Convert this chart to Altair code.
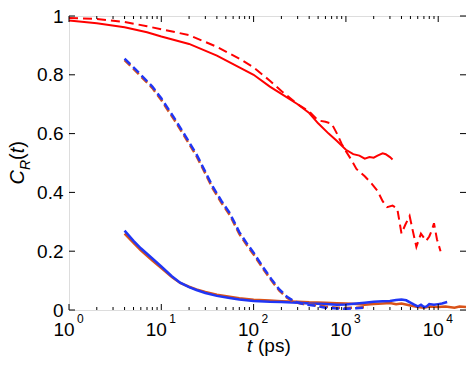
import altair as alt
import pandas as pd

# ---------------- data ----------------
red_solid_t = [1, 2, 4, 7, 10, 20, 40, 70, 100, 150, 200, 300, 400, 500, 650, 800,
               1000, 1200, 1400, 1600, 1800, 2000, 2200, 2500, 2700, 3000, 3200]
red_solid_c = [0.985, 0.975, 0.962, 0.945, 0.93, 0.905, 0.865, 0.825, 0.80, 0.76, 0.735,
               0.70, 0.67, 0.635, 0.60, 0.575, 0.545, 0.53, 0.525, 0.515, 0.52, 0.518,
               0.525, 0.533, 0.53, 0.52, 0.512]

red_dash_t = [1, 2, 4, 7, 10, 20, 40, 70, 100, 150, 200, 250, 300, 400, 500, 600, 700,
              800, 900, 1000, 1150, 1300, 1600, 1900, 2200, 2500, 2800, 3200, 3600, 4000,
              4400, 4900, 5300, 5800, 6500, 7400, 8000, 8500, 9000, 9700, 10600]
red_dash_c = [0.993, 0.99, 0.98, 0.965, 0.955, 0.935, 0.895, 0.855, 0.825, 0.78, 0.745,
              0.72, 0.70, 0.675, 0.645, 0.64, 0.634, 0.60, 0.565, 0.54, 0.51, 0.48, 0.455,
              0.43, 0.405, 0.37, 0.35, 0.355, 0.345, 0.26, 0.29, 0.32, 0.27, 0.215, 0.26,
              0.235, 0.25, 0.27, 0.295, 0.24, 0.20]

blue_dash_t = [4, 5, 6, 8, 10, 14, 18, 24, 30, 36, 45, 55, 70, 85, 100, 130, 160, 190,
               230, 280, 350, 450, 600, 800, 1000, 1300, 1700]
blue_dash_c = [0.855, 0.825, 0.80, 0.76, 0.72, 0.65, 0.595, 0.53, 0.47, 0.42, 0.37, 0.33,
               0.265, 0.225, 0.195, 0.14, 0.10, 0.07, 0.045, 0.028, 0.02, 0.015, 0.008,
               0.005, 0.004, 0.006, 0.008]

orange_dash_t = [4, 5, 6, 8, 10, 14, 18, 24, 30, 36, 45, 55, 70, 85, 100, 130, 160, 190,
                 230, 280, 350, 450, 600, 800, 1000, 1300, 1700]
orange_dash_c = [0.85, 0.82, 0.795, 0.755, 0.714, 0.644, 0.589, 0.524, 0.464, 0.414, 0.364,
                 0.324, 0.259, 0.219, 0.189, 0.135, 0.096, 0.066, 0.042, 0.026, 0.02, 0.017,
                 0.012, 0.008, 0.007, 0.008, 0.01]

blue_solid_t = [4, 5, 6, 8, 10, 13, 16, 20, 24, 30, 40, 55, 70, 100, 150, 200, 300, 400,
                600, 800, 1000, 1300, 1600, 2000, 2500, 3000, 3500, 4000, 4500, 5000, 5500,
                6000, 6500, 7000, 7500, 8000, 9000, 10000, 11000, 12500]
blue_solid_c = [0.27, 0.235, 0.21, 0.175, 0.148, 0.115, 0.093, 0.078, 0.068, 0.058, 0.048,
                0.041, 0.036, 0.031, 0.028, 0.027, 0.025, 0.022, 0.02, 0.018, 0.019, 0.022,
                0.025, 0.028, 0.03, 0.031, 0.034, 0.036, 0.033, 0.025, 0.018, 0.012, 0.018,
                0.01, 0.012, 0.02, 0.018, 0.02, 0.022, 0.027]

orange_solid_t = [4, 5, 6, 8, 10, 13, 16, 20, 24, 30, 40, 55, 70, 100, 150, 200, 300, 400,
                  600, 800, 1000, 1300, 1600, 2000, 2500, 3000, 3500, 4000, 5000, 6000,
                  7000, 8000, 10000, 12000, 15000, 17000, 20000]
orange_solid_c = [0.26, 0.228, 0.203, 0.168, 0.143, 0.112, 0.092, 0.079, 0.07, 0.061,
                  0.052, 0.045, 0.04, 0.035, 0.032, 0.03, 0.028, 0.026, 0.025, 0.023, 0.022,
                  0.02, 0.018, 0.02, 0.022, 0.024, 0.02, 0.022, 0.015, 0.01, 0.008, 0.012,
                  0.01, 0.012, 0.008, 0.012, 0.01]

x_major = [1, 10, 100, 1000, 10000]
x_exponents = ["0", "1", "2", "3", "4"]
x_minor = [k * 10 ** d for d in range(0, 5) for k in range(2, 10) if k * 10 ** d < 20000]
y_major = [0, 0.2, 0.4, 0.6, 0.8, 1.0]

# ---------------- styling ----------------
W, H = 397, 294
FONT = "Liberation Sans"
RED = "#ff0000"
BLUE = "#2036f5"
ORANGE = "#d95319"

xs = alt.Scale(type="log", domain=[1, 20000], nice=False)
ys = alt.Scale(domain=[0, 1], nice=False, zero=False)
y_axis = alt.Axis(values=y_major, format="~g", labelFontSize=19, labelFont=FONT,
                  labelColor="black", ticks=False, tickSize=0, domain=False, grid=False,
                  title=None, labelPadding=6, labelOverlap=False)


def series(t, c, color, width, dash=None):
    df = pd.DataFrame({"t": t, "C": c})
    kw = dict(color=color, strokeWidth=width, clip=True)
    if dash:
        kw["strokeDash"] = dash
    return alt.Chart(df).mark_line(**kw).encode(
        x=alt.X("t:Q", scale=xs, axis=None),
        y=alt.Y("C:Q", scale=ys, axis=y_axis),
    )


layers = [
    series(orange_solid_t, orange_solid_c, ORANGE, 2.5),
    series(blue_solid_t, blue_solid_c, BLUE, 2.5),
    series(orange_dash_t, orange_dash_c, ORANGE, 2.5, [8, 4]),
    series(blue_dash_t, blue_dash_c, BLUE, 2.5, [8, 4]),
    series(red_solid_t, red_solid_c, RED, 2),
    series(red_dash_t, red_dash_c, RED, 2, [9, 5]),
]

# inward ticks (MATLAB style) on all four sides
xmaj = pd.DataFrame({"t": x_major})
xmin = pd.DataFrame({"t": x_minor})
ymaj = pd.DataFrame({"C": y_major})


def xticks(df, y0, y1):
    return alt.Chart(df).mark_rule(color="black", strokeWidth=1).encode(
        x=alt.X("t:Q", scale=xs, axis=None), y=alt.value(y0), y2=alt.value(y1))


def yticks(x0, x1):
    return alt.Chart(ymaj).mark_rule(color="black", strokeWidth=1).encode(
        y=alt.Y("C:Q", scale=ys, axis=y_axis), x=alt.value(x0), x2=alt.value(x1))


layers += [
    xticks(xmaj, H, H - 6), xticks(xmaj, 0, 6),
    xticks(xmin, H, H - 3), xticks(xmin, 0, 3),
    yticks(0, 6), yticks(W, W - 6),
]

# x tick labels 10^k
xlab = pd.DataFrame({"t": x_major, "base": ["10"] * 5, "exp": x_exponents})
layers.append(alt.Chart(xlab).mark_text(align="center", baseline="alphabetic", fontSize=19,
                                        font=FONT, color="black", dx=-5).encode(
    x=alt.X("t:Q", scale=xs, axis=None), y=alt.value(H + 26), text="base:N"))
layers.append(alt.Chart(xlab).mark_text(align="left", baseline="alphabetic", fontSize=12,
                                        font=FONT, color="black", dx=8).encode(
    x=alt.X("t:Q", scale=xs, axis=None), y=alt.value(H + 13), text="exp:N"))


def label(txt, x, y, size=20, italic=False, angle=None):
    kw = dict(align="left", baseline="alphabetic", fontSize=size, font=FONT, color="black")
    if italic:
        kw["fontStyle"] = "italic"
    if angle is not None:
        kw["angle"] = angle
    return alt.Chart(pd.DataFrame({"s": [txt]})).mark_text(**kw).encode(
        text="s:N", x=alt.value(x), y=alt.value(y))


# x title: t (ps)
layers.append(label("t", 178, H + 42, size=19, italic=True))
layers.append(label("(ps)", 189, H + 42, size=19))

# y title: C_R(t)
layers.append(label("C", -45, 168.5, italic=True, angle=270))
layers.append(label("R", -39, 154.1, size=14, italic=True, angle=270))
layers.append(label("(", -45, 144.0, angle=270))
layers.append(label("t", -45, 137.3, italic=True, angle=270))
layers.append(label(")", -45, 131.8, angle=270))

chart = alt.layer(*layers).properties(
    width=W, height=H,
    autosize=alt.AutoSizeParams(type="none"),
    padding={"left": 61, "top": 8, "right": 0, "bottom": 46},
).configure_view(stroke="black", strokeWidth=2).configure(background="white")

chart.save("out.html", embed_options={"renderer": "svg", "actions": False})
